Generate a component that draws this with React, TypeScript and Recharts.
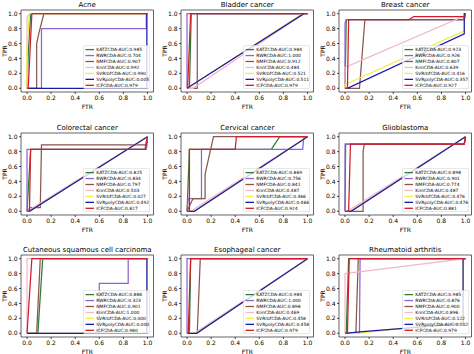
import React from 'react';
import { LineChart, Line, XAxis, YAxis, ReferenceArea, Legend, Label } from 'recharts';

type Pt = [number, number];

const methods = ['KATZCDA', 'RWRCDA', 'NMFCDA', 'KnnCDA', 'SVRrbfCDA', 'SVRpolyCDA', 'ICFCDA'];
const colors = ['#2e7d32', '#8f62d6', '#8c564b', '#f2b8c8', '#eeee44', '#1a1aaa', '#d01c2c'];
const axisTicks = [0, 0.2, 0.4, 0.6, 0.8, 1.0];

const acneAUC = [0.985, 0.704, 0.907, 0.992, 0.99, 0.005, 0.979];
const acneCurves: Pt[][] = [
  [[0, 0], [0.01, 0.45], [0.03, 1], [1, 1]],
  [[0, 0], [0.12, 0], [0.12, 0.8], [0.99, 0.8], [0.99, 1], [1, 1]],
  [[0, 0], [0.08, 0], [0.08, 0.6], [0.1, 0.75], [0.14, 1], [1, 1]],
  [[0, 0], [0, 0.95], [0.02, 1], [1, 1]],
  [[0, 0], [0, 0.55], [0.02, 1], [1, 1]],
  [[0, 0], [0.995, 0], [0.995, 1], [1, 1]],
  [[0, 0], [0.01, 0], [0.04, 1], [1, 1]],
];

const bladderAUC = [0.984, 1.0, 0.912, 0.484, 0.521, 0.511, 0.979];
const bladderCurves: Pt[][] = [
  [[0, 0], [0.02, 0], [0.035, 1], [1, 1]],
  [[0, 0], [0, 1], [1, 1]],
  [[0, 0], [0.085, 0], [0.085, 1], [1, 1]],
  [[0, 0], [0.05, 0], [0.97, 1], [1, 1]],
  [[0, 0], [0.96, 1], [1, 1]],
  [[0, 0], [0.97, 1], [1, 1]],
  [[0, 0], [0.005, 0], [0.03, 1], [1, 1]],
];

const breastAUC = [0.923, 0.926, 0.807, 0.639, 0.416, 0.357, 0.927];
const breastCurves: Pt[][] = [
  [[0, 0], [0.01, 0.92], [0.99, 0.92], [1, 1]],
  [[0, 0], [0, 0.88], [0.01, 0.92], [0.98, 0.92], [1, 1]],
  [[0, 0], [0.12, 0], [0.165, 0.92], [0.99, 0.92], [1, 1]],
  [[0, 0], [0, 0.28], [0.99, 0.97], [1, 1]],
  [[0, 0], [0, 0.05], [0.99, 0.77], [0.99, 1], [1, 1]],
  [[0, 0], [0.02, 0], [0.99, 0.73], [0.99, 1], [1, 1]],
  [[0, 0], [0.02, 0], [0.03, 0.92], [0.53, 0.92], [0.57, 0.96], [0.99, 0.96], [1, 1]],
];

const colorectalAUC = [0.825, 0.834, 0.797, 0.503, 0.027, 0.492, 0.827];
const colorectalCurves: Pt[][] = [
  [[0, 0], [0.03, 0.83], [0.99, 0.83], [1, 1]],
  [[0, 0], [0, 0.83], [0.99, 0.83], [1, 1]],
  [[0, 0], [0.03, 0.05], [0.11, 0.05], [0.12, 0.89], [0.99, 0.89], [1, 0.95]],
  [[0, 0], [1, 1]],
  [[0, 0], [0.02, 0], [1, 1]],
  [[0, 0], [0.02, 0], [1, 1]],
  [[0, 0], [0.02, 0], [0.03, 0.83], [0.98, 0.83], [0.99, 0.93], [1, 1]],
];

const cervicalAUC = [0.869, 0.756, 0.841, 0.487, 0.466, 0.466, 0.924];
const cervicalCurves: Pt[][] = [
  [[0, 0], [0.02, 0.83], [0.7, 0.83], [0.77, 1], [1, 1]],
  [[0, 0], [0.01, 0.17], [0.12, 0.17], [0.12, 0.83], [0.96, 0.83], [0.97, 1], [1, 1]],
  [[0, 0], [0.05, 0.17], [0.15, 0.17], [0.15, 0.5], [0.22, 1], [1, 1]],
  [[0, 0], [0.03, 0], [1, 1]],
  [[0, 0], [0.06, 0], [1, 1]],
  [[0, 0], [0.06, 0], [1, 1]],
  [[0, 0], [0.02, 0], [0.02, 0.83], [0.4, 0.83], [0.41, 1], [1, 1]],
];

const glioAUC = [0.898, 0.901, 0.774, 0.487, 0.476, 0.476, 0.881];
const glioCurves: Pt[][] = [
  [[0, 0], [0.005, 0.9], [0.99, 0.9], [1, 1]],
  [[0, 0], [0, 0.9], [0.99, 0.9], [1, 1]],
  [[0, 0], [0.15, 0], [0.15, 0.8], [0.16, 0.9], [0.99, 0.9], [1, 1]],
  [[0, 0], [0.02, 0], [1, 1]],
  [[0, 0], [0.05, 0], [1, 1]],
  [[0, 0], [0.05, 0], [1, 1]],
  [[0, 0], [0.03, 0], [0.045, 0.9], [0.99, 0.9], [1, 1]],
];

const cutaneousAUC = [0.886, 0.323, 0.901, 1.0, 0.0, 0.0, 0.98];
const cutaneousCurves: Pt[][] = [
  [[0, 0], [0.09, 0], [0.13, 1], [1, 1]],
  [[0, 0], [0.6, 0], [0.6, 0.67], [0.84, 0.67], [0.84, 1], [1, 1]],
  [[0, 0], [0.08, 0], [0.11, 1], [1, 1]],
  [[0, 0], [0, 1], [1, 1]],
  [[0, 0], [1, 0], [1, 1]],
  [[0, 0], [0.995, 0], [0.995, 1], [1, 1]],
  [[0, 0], [0.04, 1], [1, 1]],
];

const esophagealAUC = [0.984, 1.0, 0.898, 0.469, 0.458, 0.458, 0.979];
const esophagealCurves: Pt[][] = [
  [[0, 0], [0.02, 0], [0.03, 1], [1, 1]],
  [[0, 0], [0, 1], [1, 1]],
  [[0, 0], [0.085, 0], [0.11, 1], [1, 1]],
  [[0, 0], [0.06, 0], [1, 1]],
  [[0, 0], [0.08, 0], [1, 1]],
  [[0, 0], [0.08, 0], [1, 1]],
  [[0, 0], [0.01, 0], [0.03, 1], [1, 1]],
];

const rheumAUC = [0.985, 0.876, 0.9, 0.896, 0.122, 0.102, 0.979];
const rheumCurves: Pt[][] = [
  [[0, 0], [0.01, 0], [0.03, 1], [1, 1]],
  [[0, 0], [0.12, 0], [0.125, 1], [1, 1]],
  [[0, 0], [0.09, 0], [0.11, 1], [1, 1]],
  [[0, 0], [0, 0.8], [1, 1]],
  [[0, 0], [0.1, 0], [0.98, 0.16], [0.98, 1], [1, 1]],
  [[0, 0], [0.12, 0.02], [0.98, 0.13], [0.98, 1], [1, 1]],
  [[0, 0], [0.02, 0], [0.035, 1], [1, 1]],
];

const titles = [
  'Acne', 'Bladder cancer', 'Breast cancer',
  'Colorectal cancer', 'Cervical cancer', 'Glioblastoma',
  'Cutaneous squamous cell carcinoma', 'Esophageal cancer', 'Rheumatoid arthritis',
];
const aucs = [acneAUC, bladderAUC, breastAUC, colorectalAUC, cervicalAUC, glioAUC, cutaneousAUC, esophagealAUC, rheumAUC];
const curves = [acneCurves, bladderCurves, breastCurves, colorectalCurves, cervicalCurves, glioCurves, cutaneousCurves, esophagealCurves, rheumCurves];

// layout
const BOX_W = 132.5;
const BOX_H = 82;
const colLeft = [20.7, 180.7, 339.3];
const rowTop = [10.3, 132.6, 255];
const ML = 22;
const MT = 12;
const MR = 2;
const XH = 22;
const W = ML + BOX_W + MR;
const H = MT + BOX_H + XH;
const LW = 67;
const LH = 44;
const TICK_FS = 6;

const fmt = (v: number) => v.toFixed(1);
const toPts = (c: Pt[]) => c.map(([x, y]) => ({ x, y }));

const XLabel = (props: any) => {
  const vb = props.viewBox || {};
  const x = (vb.x || 0) + (vb.width || 0) / 2;
  const y = (vb.y || 0) + 14.5;
  return (
    <text x={x} y={y} textAnchor="middle" dominantBaseline="central" fontSize={TICK_FS} fill="#000">FTR</text>
  );
};

const YLabel = (props: any) => {
  const vb = props.viewBox || {};
  const x = (vb.x || 0) + (vb.width || 0) - 17;
  const y = (vb.y || 0) + (vb.height || 0) / 2;
  return (
    <text x={x} y={y} transform={`rotate(-90 ${x} ${y})`} textAnchor="middle" dominantBaseline="central" fontSize={TICK_FS} fill="#000">TPR</text>
  );
};

const renderLegend = (auc: number[]) => (
  <svg width={LW} height={LH} style={{ display: 'block' }}>
    <rect x={0.4} y={0.4} width={LW - 0.8} height={LH - 0.8} rx={1.5} fill="#fff" fillOpacity={0.8} stroke="#d4d4d4" strokeWidth={0.6} />
    {methods.map((m, i) => {
      const cy = 4.6 + i * 5.95;
      return (
        <g key={m}>
          <line x1={2.5} x2={11} y1={cy} y2={cy} stroke={colors[i]} strokeWidth={1.3} />
          <text x={13.3} y={cy} dominantBaseline="central" fontSize={4.45} fill="#000">{`${m}-AUC:${auc[i].toFixed(3)}`}</text>
        </g>
      );
    })}
  </svg>
);

const Panel = ({ idx }: { idx: number }) => {
  const col = idx % 3;
  const row = Math.floor(idx / 3);
  const left = colLeft[col] - ML;
  const top = rowTop[row] - MT;
  const auc = aucs[idx];
  return (
    <div style={{ position: 'absolute', left, top, width: W, height: H }}>
      <LineChart width={W} height={H} margin={{ top: MT, right: MR, bottom: 0, left: 0 }}>
        <XAxis
          dataKey="x"
          type="number"
          domain={[-0.05, 1.05]}
          ticks={axisTicks}
          tickFormatter={fmt}
          allowDataOverflow
          interval={0}
          height={XH}
          tickSize={2}
          tickMargin={1.5}
          axisLine={false}
          tick={{ fontSize: TICK_FS, fill: '#000' }}
          tickLine={{ stroke: '#000', strokeWidth: 0.7 }}
        >
          <Label content={XLabel} />
        </XAxis>
        <YAxis
          type="number"
          domain={[-0.05, 1.05]}
          ticks={axisTicks}
          tickFormatter={fmt}
          allowDataOverflow
          interval={0}
          width={ML}
          tickSize={2}
          tickMargin={1.5}
          axisLine={false}
          tick={{ fontSize: TICK_FS, fill: '#000' }}
          tickLine={{ stroke: '#000', strokeWidth: 0.7 }}
        >
          <Label content={YLabel} />
        </YAxis>
        {curves[idx].map((c, i) => (
          <Line
            key={methods[i]}
            data={toPts(c)}
            dataKey="y"
            name={`${methods[i]}-AUC:${auc[i].toFixed(3)}`}
            type="linear"
            stroke={colors[i]}
            strokeWidth={1.25}
            dot={false}
            activeDot={false}
            isAnimationActive={false}
          />
        ))}
        <ReferenceArea
          x1={-0.05}
          x2={1.05}
          y1={-0.05}
          y2={1.05}
          fill="none"
          stroke="#222"
          strokeWidth={0.7}
          ifOverflow="visible"
          label={{ value: titles[idx], position: 'top', offset: 3, fontSize: 7, fill: '#000' }}
        />
        <Legend
          layout="vertical"
          align="center"
          verticalAlign="middle"
          content={() => renderLegend(auc)}
          wrapperStyle={{ left: ML + BOX_W - 3 - LW, top: MT + BOX_H - 3 - LH, width: LW, height: LH }}
        />
      </LineChart>
    </div>
  );
}

export default function App() {
  return (
    <div
      style={{
        position: 'absolute',
        left: 0,
        top: 0,
        width: 474,
        height: 354,
        background: '#fff',
        fontFamily: '"DejaVu Sans", sans-serif',
        overflow: 'hidden',
      }}
    >
      {titles.map((_, i) => (
        <Panel key={i} idx={i} />
      ))}
    </div>
  );
}
